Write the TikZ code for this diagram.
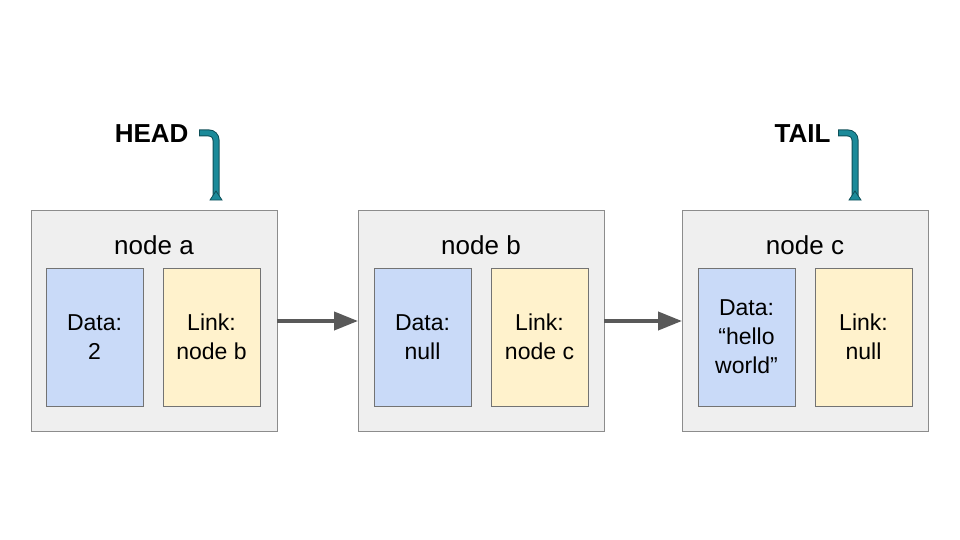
\documentclass[tikz,border=0pt]{standalone}
\usepackage{fontspec}
\setmainfont{Liberation Sans}
\usetikzlibrary{arrows.meta}
\definecolor{outerf}{HTML}{EFEFEF}
\definecolor{dataf}{HTML}{C9DAF8}
\definecolor{linkf}{HTML}{FFF2CC}
\definecolor{teal1}{HTML}{1B8A99}
\definecolor{tealo}{HTML}{0E4F58}
\begin{document}
\begin{tikzpicture}[x=1pt,y=-1pt,
  outer/.style={draw=black!45,fill=outerf,line width=1pt},
  data/.style={draw=black!55,fill=dataf,line width=1pt},
  link/.style={draw=black!55,fill=linkf,line width=1pt},
  lbl/.style={font=\fontsize{23}{29}\selectfont,align=center},
  ttl/.style={font=\fontsize{26}{30}\selectfont},
  ptr/.style={font=\bfseries\fontsize{26}{30}\selectfont},
  conn/.style={draw=black!65,line width=4pt,-{Triangle[length=24pt,width=18pt]}},
  tealarr/.style={rounded corners=7pt}]
\useasboundingbox (0,0) rectangle (960,540);
% outer boxes
\foreach \n/\x in {a/31,b/358,c/682}{
  \path[outer] (\x,210) rectangle (\x+246,431);
  \node[ttl] (t\n) at (\x+123,245) {node \n};
  \coordinate (L\n) at (\x,321);
  \coordinate (R\n) at (\x+246,321);
}
\node[data,minimum width=97pt,minimum height=138pt,lbl] (da) at (94.5,337) {Data:\\2};
\node[link,minimum width=97pt,minimum height=138pt,lbl] (la) at (211.5,337) {Link:\\node b};
\node[data,minimum width=97pt,minimum height=138pt,lbl] (db) at (422.5,337) {Data:\\null};
\node[link,minimum width=97pt,minimum height=138pt,lbl] (lb) at (539.5,337) {Link:\\node c};
\node[data,minimum width=97pt,minimum height=138pt,lbl] (dc) at (746.5,337) {Data:\\“hello\\world”};
\node[link,minimum width=97pt,minimum height=138pt,lbl] (lc) at (863.5,337) {Link:\\null};
\draw[conn] (Ra) -- (Lb);
\draw[conn] (Rb) -- (Lc);
% pointers
\node[ptr,anchor=east] (head) at (192,134) {HEAD};
\node[ptr,anchor=east] (tail) at (834,134) {TAIL};
\coordinate (hs) at (199,133); \coordinate (hc) at (216,133); \coordinate (he) at (216,191);
\coordinate (ts) at (838,133); \coordinate (tc) at (855,133); \coordinate (te) at (855,191);
\foreach \s/\c/\e in {hs/hc/he,ts/tc/te}{
  \draw[tealarr,draw=tealo,line width=7pt] (\s) -- (\c) -- ([yshift=-8]\e);
  \draw[tealarr,draw=teal1,line width=5pt] ([xshift=1]\s) -- (\c) -- ([yshift=-7]\e);
  \fill[teal1,draw=tealo,line width=0.8pt] ([xshift=-6,yshift=-9]\e) -- ([xshift=6,yshift=-9]\e) -- (\e) -- cycle;
}
\end{tikzpicture}
\end{document}
